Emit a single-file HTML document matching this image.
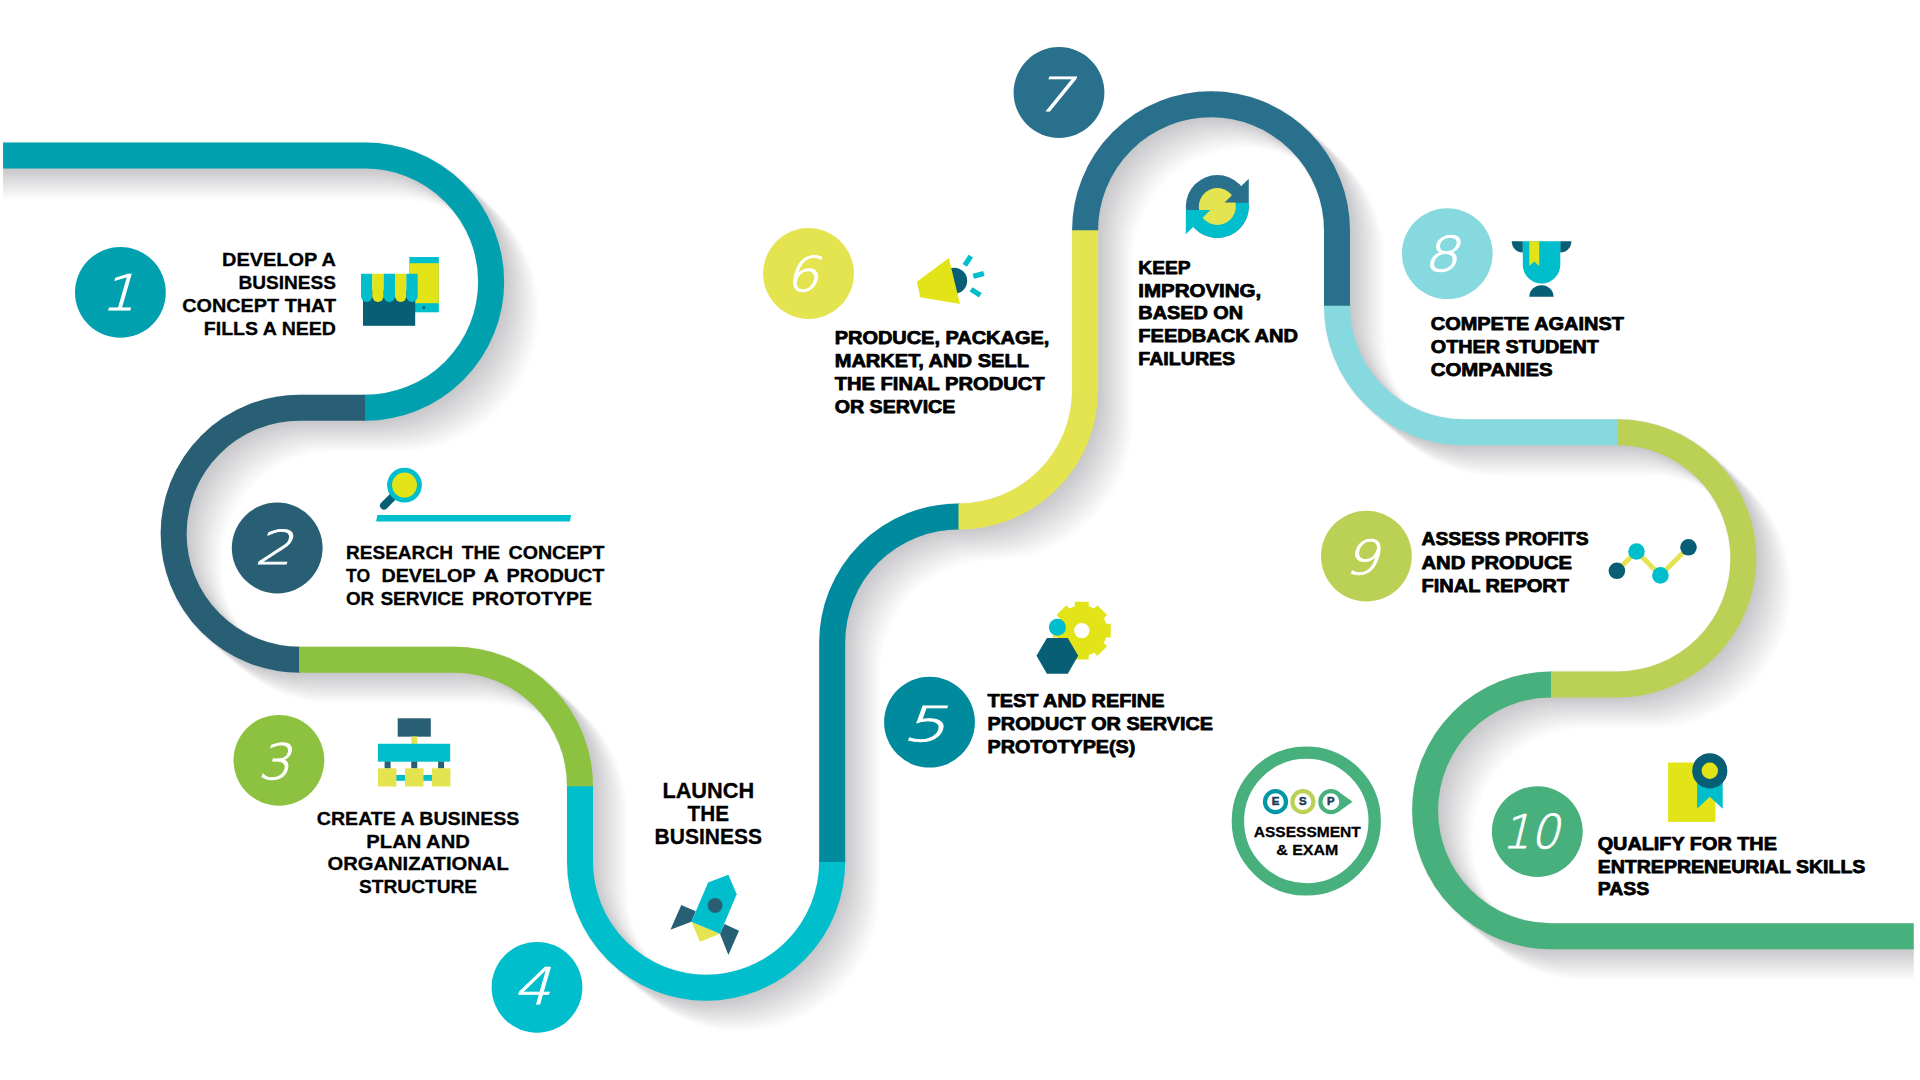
<!DOCTYPE html>
<html lang="en"><head><meta charset="utf-8"><title>Company Programme Roadmap</title>
<style>
html,body{margin:0;padding:0;background:#fff;}
body{width:1920px;height:1080px;overflow:hidden;position:relative;}
svg{position:absolute;left:0;top:0;display:block;}
.t{font-family:"Liberation Sans",sans-serif;font-weight:700;fill:#000;}
</style></head><body>
<svg width="1920" height="1080" viewBox="0 0 1920 1080">
<defs>
<path id="road" d="M-40,155.5 H365 A120,120 0 0 1 365,407.8 L365,407.8 H299.6 A120,120 0 0 0 299.6,659.7 H299 L299,659.7 H454 A126,126 0 0 1 580,785.7 V786.3 L580,786.3 V861.6 A120,120 0 0 0 832.2,861.6 L832.2,862 V642.5 A126.3,126 0 0 1 958.5,516.5 L958.5,516.5 H958.8 A126.3,126.3 0 0 0 1085.1,390.2 V230.3 L1085.1,230.3 A120,120 0 0 1 1337,230.3 V305.7 L1337,305.7 A126.3,126.3 0 0 0 1463.3,432.2 H1617.3 L1617.3,432.2 A120,120 0 0 1 1617.3,684.5 H1551 L1551,684.5 A120,120 0 0 0 1551,936.3 H1960" fill="none" stroke-linejoin="round"/>
<clipPath id="cv"><rect x="3.1" y="0" width="1910.6" height="1080"/></clipPath>
<filter id="sb" x="0" y="0" width="1920" height="1080" filterUnits="userSpaceOnUse" color-interpolation-filters="sRGB"><feGaussianBlur stdDeviation="1"/></filter>
</defs>
<g clip-path="url(#cv)">
<g filter="url(#sb)">
<use href="#road" transform="translate(35.10,30.91)" stroke="rgb(254,254,254)" stroke-width="26.0" fill="none"/>
<use href="#road" transform="translate(34.20,30.11)" stroke="rgb(252,252,252)" stroke-width="26.0" fill="none"/>
<use href="#road" transform="translate(33.30,29.32)" stroke="rgb(251,251,251)" stroke-width="26.0" fill="none"/>
<use href="#road" transform="translate(32.40,28.53)" stroke="rgb(249,249,250)" stroke-width="26.0" fill="none"/>
<use href="#road" transform="translate(31.50,27.74)" stroke="rgb(248,248,248)" stroke-width="26.0" fill="none"/>
<use href="#road" transform="translate(30.60,26.95)" stroke="rgb(247,247,247)" stroke-width="26.0" fill="none"/>
<use href="#road" transform="translate(29.70,26.15)" stroke="rgb(245,245,246)" stroke-width="26.0" fill="none"/>
<use href="#road" transform="translate(28.80,25.36)" stroke="rgb(244,244,244)" stroke-width="26.0" fill="none"/>
<use href="#road" transform="translate(27.90,24.57)" stroke="rgb(242,242,243)" stroke-width="26.0" fill="none"/>
<use href="#road" transform="translate(27.00,23.77)" stroke="rgb(241,241,242)" stroke-width="26.0" fill="none"/>
<use href="#road" transform="translate(26.10,22.98)" stroke="rgb(240,240,240)" stroke-width="26.0" fill="none"/>
<use href="#road" transform="translate(25.20,22.19)" stroke="rgb(238,238,239)" stroke-width="26.0" fill="none"/>
<use href="#road" transform="translate(24.30,21.40)" stroke="rgb(237,237,238)" stroke-width="26.0" fill="none"/>
<use href="#road" transform="translate(23.40,20.61)" stroke="rgb(235,235,236)" stroke-width="26.0" fill="none"/>
<use href="#road" transform="translate(22.50,19.81)" stroke="rgb(234,234,235)" stroke-width="26.0" fill="none"/>
<use href="#road" transform="translate(21.60,19.02)" stroke="rgb(233,233,234)" stroke-width="26.0" fill="none"/>
<use href="#road" transform="translate(20.70,18.23)" stroke="rgb(231,231,232)" stroke-width="26.0" fill="none"/>
<use href="#road" transform="translate(19.80,17.44)" stroke="rgb(230,230,231)" stroke-width="26.0" fill="none"/>
<use href="#road" transform="translate(18.90,16.64)" stroke="rgb(228,228,230)" stroke-width="26.0" fill="none"/>
<use href="#road" transform="translate(18.00,15.85)" stroke="rgb(227,227,228)" stroke-width="26.0" fill="none"/>
<use href="#road" transform="translate(17.10,15.06)" stroke="rgb(226,226,227)" stroke-width="26.0" fill="none"/>
<use href="#road" transform="translate(16.20,14.27)" stroke="rgb(224,224,226)" stroke-width="26.0" fill="none"/>
<use href="#road" transform="translate(15.30,13.47)" stroke="rgb(223,223,225)" stroke-width="26.0" fill="none"/>
<use href="#road" transform="translate(14.40,12.68)" stroke="rgb(221,221,223)" stroke-width="26.0" fill="none"/>
<use href="#road" transform="translate(13.50,11.89)" stroke="rgb(220,220,222)" stroke-width="26.0" fill="none"/>
<use href="#road" transform="translate(12.60,11.09)" stroke="rgb(219,219,221)" stroke-width="26.0" fill="none"/>
<use href="#road" transform="translate(11.70,10.30)" stroke="rgb(217,217,219)" stroke-width="26.0" fill="none"/>
<use href="#road" transform="translate(10.80,9.51)" stroke="rgb(216,216,218)" stroke-width="26.0" fill="none"/>
<use href="#road" transform="translate(9.90,8.72)" stroke="rgb(214,214,217)" stroke-width="26.0" fill="none"/>
<use href="#road" transform="translate(9.00,7.92)" stroke="rgb(213,213,215)" stroke-width="26.0" fill="none"/>
<use href="#road" transform="translate(8.10,7.13)" stroke="rgb(212,212,214)" stroke-width="26.0" fill="none"/>
<use href="#road" transform="translate(7.20,6.34)" stroke="rgb(210,210,213)" stroke-width="26.0" fill="none"/>
<use href="#road" transform="translate(6.30,5.55)" stroke="rgb(209,209,211)" stroke-width="26.0" fill="none"/>
<use href="#road" transform="translate(5.40,4.75)" stroke="rgb(207,207,210)" stroke-width="26.0" fill="none"/>
<use href="#road" transform="translate(4.50,3.96)" stroke="rgb(206,206,209)" stroke-width="26.0" fill="none"/>
<use href="#road" transform="translate(3.60,3.17)" stroke="rgb(205,205,207)" stroke-width="26.0" fill="none"/>
<use href="#road" transform="translate(2.70,2.38)" stroke="rgb(203,203,206)" stroke-width="26.0" fill="none"/>
<use href="#road" transform="translate(1.80,1.58)" stroke="rgb(202,202,205)" stroke-width="26.0" fill="none"/>
<use href="#road" transform="translate(0.90,0.79)" stroke="rgb(200,200,203)" stroke-width="26.0" fill="none"/>
</g>
<g fill="none" stroke-width="26.0">
<path d="M-40,155.5 H365 A120,120 0 0 1 365,407.8 h-1.2" stroke="#00A0AF"/>
<path d="M365,407.8 H299.6 A120,120 0 0 0 299.6,659.7 H299 h1.2" stroke="#285F75"/>
<path d="M299,659.7 H454 A126,126 0 0 1 580,785.7 V786.3 v1.2" stroke="#8DC241"/>
<path d="M580,786.3 V861.6 A120,120 0 0 0 832.2,861.6 v-1.2" stroke="#00BECB"/>
<path d="M832.2,862 V642.5 A126.3,126 0 0 1 958.5,516.5 h1.2" stroke="#008A9D"/>
<path d="M958.5,516.5 H958.8 A126.3,126.3 0 0 0 1085.1,390.2 V230.3 v-1.2" stroke="#E4E350"/>
<path d="M1085.1,230.3 A120,120 0 0 1 1337,230.3 V305.7 v1.2" stroke="#29708C"/>
<path d="M1337,305.7 A126.3,126.3 0 0 0 1463.3,432.2 H1617.3 h1.2" stroke="#86DADF"/>
<path d="M1617.3,432.2 A120,120 0 0 1 1617.3,684.5 H1551 h-1.2" stroke="#BAD155"/>
<path d="M1551,684.5 A120,120 0 0 0 1551,936.3 H1960 " stroke="#47B07C"/>
</g>
</g>
<circle cx="120.4" cy="292.4" r="45.4" fill="#00A0AF"/>
<text transform="translate(100.4,310.12) scale(0.5643,0.4908) skewX(-14)" font-size="100" style="font-family:&quot;DejaVu Sans Light&quot;,&quot;DejaVu Sans&quot;,sans-serif;font-weight:200" fill="#fff" stroke="#fff" stroke-width="2.0">1</text>
<circle cx="277.2" cy="548.0" r="45.4" fill="#285F75"/>
<text transform="translate(254.24,564.37) scale(0.5933,0.4667) skewX(-14)" font-size="100" style="font-family:&quot;DejaVu Sans Light&quot;,&quot;DejaVu Sans&quot;,sans-serif;font-weight:200" fill="#fff" stroke="#fff" stroke-width="2.0">2</text>
<circle cx="278.9" cy="760.3" r="45.4" fill="#8DC241"/>
<text transform="translate(257.82,778.93) scale(0.51,0.4872) skewX(-14)" font-size="100" style="font-family:&quot;DejaVu Sans Light&quot;,&quot;DejaVu Sans&quot;,sans-serif;font-weight:200" fill="#fff" stroke="#fff" stroke-width="2.0">3</text>
<circle cx="537.0" cy="987.3" r="45.4" fill="#00BECB"/>
<text transform="translate(513.33,1004.49) scale(0.5839,0.5053) skewX(-14)" font-size="100" style="font-family:&quot;DejaVu Sans Light&quot;,&quot;DejaVu Sans&quot;,sans-serif;font-weight:200" fill="#fff" stroke="#fff" stroke-width="2.0">4</text>
<circle cx="929.5" cy="722.2" r="45.4" fill="#008A9D"/>
<text transform="translate(901.85,741.44) scale(0.6946,0.4816) skewX(-14)" font-size="100" style="font-family:&quot;DejaVu Sans Light&quot;,&quot;DejaVu Sans&quot;,sans-serif;font-weight:200" fill="#fff" stroke="#fff" stroke-width="2.0">5</text>
<circle cx="808.5" cy="273.5" r="45.4" fill="#E4E350"/>
<text transform="translate(785.35,291.04) scale(0.525,0.4782) skewX(-14)" font-size="100" style="font-family:&quot;DejaVu Sans Light&quot;,&quot;DejaVu Sans&quot;,sans-serif;font-weight:200" fill="#fff" stroke="#fff" stroke-width="2.0">6</text>
<circle cx="1059.0" cy="92.5" r="45.4" fill="#29708C"/>
<text transform="translate(1033.9,110.96) scale(0.6,0.4684) skewX(-14)" font-size="100" style="font-family:&quot;DejaVu Sans Light&quot;,&quot;DejaVu Sans&quot;,sans-serif;font-weight:200" fill="#fff" stroke="#fff" stroke-width="2.0">7</text>
<circle cx="1447.3" cy="253.7" r="45.4" fill="#86DADF"/>
<text transform="translate(1423.3,271.14) scale(0.55,0.4808) skewX(-14)" font-size="100" style="font-family:&quot;DejaVu Sans Light&quot;,&quot;DejaVu Sans&quot;,sans-serif;font-weight:200" fill="#fff" stroke="#fff" stroke-width="2.0">8</text>
<circle cx="1366.4" cy="556.1" r="45.4" fill="#BAD155"/>
<text transform="translate(1344.25,574.36) scale(0.5375,0.4705) skewX(-14)" font-size="100" style="font-family:&quot;DejaVu Sans Light&quot;,&quot;DejaVu Sans&quot;,sans-serif;font-weight:200" fill="#fff" stroke="#fff" stroke-width="2.0">9</text>
<circle cx="1537.3" cy="831.6" r="45.4" fill="#47B07C"/>
<text transform="translate(1501.76,848.17) scale(0.4525,0.4641) skewX(-14)" font-size="100" style="font-family:&quot;DejaVu Sans Light&quot;,&quot;DejaVu Sans&quot;,sans-serif;font-weight:200" fill="#fff" stroke="#fff" stroke-width="2.0">10</text>
<text class="t" x="336" y="265.8" font-size="18.2" text-anchor="end" textLength="114.0" lengthAdjust="spacingAndGlyphs" stroke="#000" stroke-width="0.3" stroke-linejoin="round">DEVELOP A</text>
<text class="t" x="336" y="288.75" font-size="18.2" text-anchor="end" textLength="97.5" lengthAdjust="spacingAndGlyphs" stroke="#000" stroke-width="0.3" stroke-linejoin="round">BUSINESS</text>
<text class="t" x="336" y="311.7" font-size="18.2" text-anchor="end" textLength="153.7" lengthAdjust="spacingAndGlyphs" stroke="#000" stroke-width="0.3" stroke-linejoin="round">CONCEPT THAT</text>
<text class="t" x="336" y="334.6" font-size="18.2" text-anchor="end" textLength="132.2" lengthAdjust="spacingAndGlyphs" stroke="#000" stroke-width="0.3" stroke-linejoin="round">FILLS A NEED</text>
<text class="t" y="558.5" font-size="18.2" stroke="#000" stroke-width="0.3" stroke-linejoin="round"><tspan x="346.0" textLength="106.9" lengthAdjust="spacingAndGlyphs">RESEARCH</tspan> <tspan x="461.7" textLength="38.5" lengthAdjust="spacingAndGlyphs">THE</tspan> <tspan x="508.5" textLength="95.9" lengthAdjust="spacingAndGlyphs">CONCEPT</tspan></text>
<text class="t" y="581.5" font-size="18.2" stroke="#000" stroke-width="0.3" stroke-linejoin="round"><tspan x="346.0" textLength="24.0" lengthAdjust="spacingAndGlyphs">TO</tspan> <tspan x="381.5" textLength="93.7" lengthAdjust="spacingAndGlyphs">DEVELOP</tspan> <tspan x="483.5" textLength="14.6" lengthAdjust="spacingAndGlyphs">A</tspan> <tspan x="506.5" textLength="97.9" lengthAdjust="spacingAndGlyphs">PRODUCT</tspan></text>
<text class="t" y="604.6" font-size="18.2" stroke="#000" stroke-width="0.3" stroke-linejoin="round"><tspan x="346.0" textLength="28.2" lengthAdjust="spacingAndGlyphs">OR</tspan> <tspan x="380.4" textLength="83.4" lengthAdjust="spacingAndGlyphs">SERVICE</tspan> <tspan x="472.1" textLength="119.8" lengthAdjust="spacingAndGlyphs">PROTOTYPE</tspan></text>
<text class="t" x="418.1" y="824.6" font-size="18.2" text-anchor="middle" textLength="202.5" lengthAdjust="spacingAndGlyphs" stroke="#000" stroke-width="0.3" stroke-linejoin="round">CREATE A BUSINESS</text>
<text class="t" x="418.1" y="847.5" font-size="18.2" text-anchor="middle" textLength="103.5" lengthAdjust="spacingAndGlyphs" stroke="#000" stroke-width="0.3" stroke-linejoin="round">PLAN AND</text>
<text class="t" x="418.1" y="870.4" font-size="18.2" text-anchor="middle" textLength="181.3" lengthAdjust="spacingAndGlyphs" stroke="#000" stroke-width="0.3" stroke-linejoin="round">ORGANIZATIONAL</text>
<text class="t" x="418.1" y="893.3" font-size="18.2" text-anchor="middle" textLength="118.1" lengthAdjust="spacingAndGlyphs" stroke="#000" stroke-width="0.3" stroke-linejoin="round">STRUCTURE</text>
<text class="t" x="708.3" y="797.9" font-size="21.2" text-anchor="middle" textLength="91.8" lengthAdjust="spacingAndGlyphs" stroke="#000" stroke-width="0.3" stroke-linejoin="round">LAUNCH</text>
<text class="t" x="708.3" y="820.7" font-size="21.2" text-anchor="middle" textLength="41.4" lengthAdjust="spacingAndGlyphs" stroke="#000" stroke-width="0.3" stroke-linejoin="round">THE</text>
<text class="t" x="708.3" y="843.6" font-size="21.2" text-anchor="middle" textLength="107.4" lengthAdjust="spacingAndGlyphs" stroke="#000" stroke-width="0.3" stroke-linejoin="round">BUSINESS</text>
<text class="t" x="987.6" y="706.6" font-size="17.7" text-anchor="start" textLength="176.8" lengthAdjust="spacingAndGlyphs" stroke="#000" stroke-width="0.75" stroke-linejoin="round">TEST AND REFINE</text>
<text class="t" x="987.6" y="729.7" font-size="17.7" text-anchor="start" textLength="225.5" lengthAdjust="spacingAndGlyphs" stroke="#000" stroke-width="0.75" stroke-linejoin="round">PRODUCT OR SERVICE</text>
<text class="t" x="987.6" y="752.6" font-size="17.7" text-anchor="start" textLength="147.7" lengthAdjust="spacingAndGlyphs" stroke="#000" stroke-width="0.75" stroke-linejoin="round">PROTOTYPE(S)</text>
<text class="t" x="834.7" y="344.1" font-size="17.7" text-anchor="start" textLength="214.6" lengthAdjust="spacingAndGlyphs" stroke="#000" stroke-width="0.75" stroke-linejoin="round">PRODUCE, PACKAGE,</text>
<text class="t" x="834.7" y="366.9" font-size="17.7" text-anchor="start" textLength="194.2" lengthAdjust="spacingAndGlyphs" stroke="#000" stroke-width="0.75" stroke-linejoin="round">MARKET, AND SELL</text>
<text class="t" x="834.7" y="389.9" font-size="17.7" text-anchor="start" textLength="209.9" lengthAdjust="spacingAndGlyphs" stroke="#000" stroke-width="0.75" stroke-linejoin="round">THE FINAL PRODUCT</text>
<text class="t" x="834.7" y="413.1" font-size="17.7" text-anchor="start" textLength="120.7" lengthAdjust="spacingAndGlyphs" stroke="#000" stroke-width="0.75" stroke-linejoin="round">OR SERVICE</text>
<text class="t" x="1138.3" y="273.5" font-size="17.7" text-anchor="start" textLength="52.2" lengthAdjust="spacingAndGlyphs" stroke="#000" stroke-width="0.75" stroke-linejoin="round">KEEP</text>
<text class="t" x="1138.3" y="296.5" font-size="17.7" text-anchor="start" textLength="122.9" lengthAdjust="spacingAndGlyphs" stroke="#000" stroke-width="0.75" stroke-linejoin="round">IMPROVING,</text>
<text class="t" x="1138.3" y="319.3" font-size="17.7" text-anchor="start" textLength="104.8" lengthAdjust="spacingAndGlyphs" stroke="#000" stroke-width="0.75" stroke-linejoin="round">BASED ON</text>
<text class="t" x="1138.3" y="342.3" font-size="17.7" text-anchor="start" textLength="159.8" lengthAdjust="spacingAndGlyphs" stroke="#000" stroke-width="0.75" stroke-linejoin="round">FEEDBACK AND</text>
<text class="t" x="1138.3" y="365.1" font-size="17.7" text-anchor="start" textLength="96.9" lengthAdjust="spacingAndGlyphs" stroke="#000" stroke-width="0.75" stroke-linejoin="round">FAILURES</text>
<text class="t" x="1430.8" y="329.8" font-size="17.7" text-anchor="start" textLength="193.1" lengthAdjust="spacingAndGlyphs" stroke="#000" stroke-width="0.75" stroke-linejoin="round">COMPETE AGAINST</text>
<text class="t" x="1430.8" y="353.2" font-size="17.7" text-anchor="start" textLength="168.0" lengthAdjust="spacingAndGlyphs" stroke="#000" stroke-width="0.75" stroke-linejoin="round">OTHER STUDENT</text>
<text class="t" x="1430.8" y="376.4" font-size="17.7" text-anchor="start" textLength="121.9" lengthAdjust="spacingAndGlyphs" stroke="#000" stroke-width="0.75" stroke-linejoin="round">COMPANIES</text>
<text class="t" x="1421.5" y="545.4" font-size="17.7" text-anchor="start" textLength="167.2" lengthAdjust="spacingAndGlyphs" stroke="#000" stroke-width="0.75" stroke-linejoin="round">ASSESS PROFITS</text>
<text class="t" x="1421.5" y="568.75" font-size="17.7" text-anchor="start" textLength="150.5" lengthAdjust="spacingAndGlyphs" stroke="#000" stroke-width="0.75" stroke-linejoin="round">AND PRODUCE</text>
<text class="t" x="1421.5" y="592.1" font-size="17.7" text-anchor="start" textLength="147.5" lengthAdjust="spacingAndGlyphs" stroke="#000" stroke-width="0.75" stroke-linejoin="round">FINAL REPORT</text>
<text class="t" x="1597.7" y="849.8" font-size="17.7" text-anchor="start" textLength="179.2" lengthAdjust="spacingAndGlyphs" stroke="#000" stroke-width="0.75" stroke-linejoin="round">QUALIFY FOR THE</text>
<text class="t" x="1597.7" y="872.7" font-size="17.7" text-anchor="start" textLength="267.7" lengthAdjust="spacingAndGlyphs" stroke="#000" stroke-width="0.75" stroke-linejoin="round">ENTREPRENEURIAL SKILLS</text>
<text class="t" x="1597.7" y="895.2" font-size="17.7" text-anchor="start" textLength="51.5" lengthAdjust="spacingAndGlyphs" stroke="#000" stroke-width="0.75" stroke-linejoin="round">PASS</text>
<g>
<rect x="409.4" y="257" width="29.4" height="55.3" fill="#00BECB"/>
<rect x="409.4" y="263.2" width="29.4" height="40" fill="#E2E418"/>
<circle cx="423.8" cy="307.6" r="1.5" fill="#085F75"/>
<rect x="363" y="290" width="52.2" height="35.8" fill="#085F75"/>
<path d="M361.00,273.75 h11.34 V296.33 a5.67,5.67 0 0 1 -11.34,0 Z" fill="#00BECB"/>
<path d="M372.34,273.75 h11.34 V296.33 a5.67,5.67 0 0 1 -11.34,0 Z" fill="#E2E418"/>
<path d="M383.68,273.75 h11.34 V296.33 a5.67,5.67 0 0 1 -11.34,0 Z" fill="#00BECB"/>
<path d="M395.02,273.75 h11.34 V296.33 a5.67,5.67 0 0 1 -11.34,0 Z" fill="#E2E418"/>
<path d="M406.36,273.75 h11.34 V296.33 a5.67,5.67 0 0 1 -11.34,0 Z" fill="#00BECB"/>
</g>
<g>
<path d="M394,495.5 L384,505.6" stroke="#085F75" stroke-width="8" stroke-linecap="round" fill="none"/>
<circle cx="404.5" cy="485.1" r="14.95" fill="#E2E418" stroke="#00BECB" stroke-width="4.9"/>
<path d="M377.4,515 H571 L570,521.6 H376.1 Z" fill="#00BECB"/>
</g>
<g>
<rect x="397.7" y="718.3" width="33.1" height="18.4" fill="#285F75"/>
<rect x="411.25" y="736.5" width="6.05" height="7.5" fill="#E4E350"/>
<rect x="377.9" y="743.75" width="72.3" height="17.95" fill="#00BECB"/>
<rect x="384.6" y="761.5" width="6" height="7" fill="#285F75"/>
<rect x="411.25" y="761.5" width="6" height="7" fill="#285F75"/>
<rect x="438.1" y="761.5" width="6" height="7" fill="#285F75"/>
<rect x="390" y="775" width="50" height="5.8" fill="#00BECB"/>
<rect x="377.9" y="768.3" width="18.5" height="18.2" fill="#E4E350"/>
<rect x="405.0" y="768.3" width="18.5" height="18.2" fill="#E4E350"/>
<rect x="431.9" y="768.3" width="18.5" height="18.2" fill="#E4E350"/>
</g>
<g>
<polygon points="681.3,904.9 695.7,911.3 691.4,921.8 670.4,929.8" fill="#285F75"/>
<polygon points="724.5,923.9 739,930.8 728.4,954.9 720,933.7" fill="#285F75"/>
<polygon points="691.4,921.8 720,933.7 700,941.8" fill="#E4E350"/>
<polygon points="728.4,874.7 736.7,894.2 720,933.7 691.4,921.8 708.1,882.5" fill="#00BECB"/>
<circle cx="715.1" cy="905.5" r="7.4" fill="#285F75"/>
</g>
<g>
<circle cx="1081.8" cy="630.6" r="25.2" fill="#E2E418"/>
<path d="M1074.84,606.59 L1074.90,601.71 L1088.70,601.71 L1088.76,606.59 L1093.86,608.70 L1097.35,605.29 L1107.11,615.05 L1103.70,618.54 L1105.81,623.64 L1110.69,623.70 L1110.69,637.50 L1105.81,637.56 L1103.70,642.66 L1107.11,646.15 L1097.35,655.91 L1093.86,652.50 L1088.76,654.61 L1088.70,659.49 L1074.90,659.49 L1074.84,654.61 L1069.74,652.50 L1066.25,655.91 L1056.49,646.15 L1059.90,642.66 L1057.79,637.56 L1052.91,637.50 L1052.91,623.70 L1057.79,623.64 L1059.90,618.54 L1056.49,615.05 L1066.25,605.29 L1069.74,608.70 Z" fill="#E2E418"/>
<circle cx="1081.8" cy="630.6" r="7.7" fill="#fff"/>
<circle cx="1057.4" cy="627.3" r="8.5" fill="#00BECB"/>
<polygon points="1036.5,655.7 1046.9,637.9 1067.8,637.9 1078.2,655.7 1067.8,673.7 1046.9,673.7" fill="#085F75"/>
</g>
<g>
<circle cx="954.2" cy="280.7" r="13" fill="#085F75"/>
<polygon points="948.8,258.1 960,304.1 920.3,297.2 916.9,281.7" fill="#E2E418"/>
<rect x="-5.5" y="-2.6" width="11" height="5.2" fill="#00BECB" transform="translate(967.8,260.7) rotate(-57)"/>
<rect x="-5.5" y="-2.6" width="11" height="5.2" fill="#00BECB" transform="translate(978.6,274.9) rotate(-15)"/>
<rect x="-5.5" y="-2.6" width="11" height="5.2" fill="#00BECB" transform="translate(975.7,292.3) rotate(32)"/>
</g>
<g>
<clipPath id="rb"><path d="M1180,210 H1217.3 V202.5 H1255 V245 H1180 Z"/></clipPath>
<circle cx="1217.3" cy="206.5" r="31.5" fill="#29708C"/>
<circle cx="1217.3" cy="206.5" r="31.5" fill="#00BECB" clip-path="url(#rb)"/>
<circle cx="1217.3" cy="206.5" r="18.5" fill="#E4E350"/>
<polygon points="1248.75,178.75 1248.75,202.6 1224.6,202.6" fill="#29708C"/>
<polygon points="1185.8,234.2 1185.8,209.9 1210.4,209.9" fill="#00BECB"/>
</g>
<g>
<path d="M1511.7,241.3 H1522.9 V252.4 A11.1,11.1 0 0 1 1511.7,241.3 Z" fill="#085F75"/>
<path d="M1571.4,241.3 H1560.2 V252.4 A11.1,11.1 0 0 0 1571.4,241.3 Z" fill="#085F75"/>
<path d="M1522.8,241.3 H1560.3 V264.85 A18.75,18.75 0 0 1 1522.8,264.85 Z" fill="#00BECB"/>
<polygon points="1529.3,241.3 1539.2,241.3 1539.2,266 1534.25,261.6 1529.3,266" fill="#E2E418"/>
<path d="M1529.3,296.7 A12.15,11.5 0 0 1 1553.6,296.7 Z" fill="#085F75"/>
</g>
<g>
<polyline points="1616.9,570.8 1636.5,551.5 1660.4,575.4 1688.5,547.3" fill="none" stroke="#E4E350" stroke-width="4.8"/>
<circle cx="1616.9" cy="570.8" r="8.3" fill="#085F75"/>
<circle cx="1636.5" cy="551.5" r="8.3" fill="#00BECB"/>
<circle cx="1660.4" cy="575.4" r="8.3" fill="#00BECB"/>
<circle cx="1688.5" cy="547.3" r="8.3" fill="#085F75"/>
</g>
<g>
<rect x="1668.1" y="762.5" width="47.3" height="59.4" fill="#E2E418"/>
<polygon points="1697.1,775 1722.7,775 1722.7,808.75 1709.8,796.7 1697.1,808.75" fill="#00BECB"/>
<circle cx="1709.8" cy="770.8" r="12.9" fill="#E2E418" stroke="#085F75" stroke-width="9.4"/>
</g>
<g>
<circle cx="1306.3" cy="821" r="68.4" fill="#fff" stroke="#47B07C" stroke-width="12.4"/>
<circle cx="1275.5" cy="801.7" r="10.5" fill="#fff" stroke="#0097A7" stroke-width="4.2"/>
<circle cx="1302.9" cy="801.7" r="10.5" fill="#fff" stroke="#BAD155" stroke-width="4.2"/>
<path d="M1337.5,791 L1352.6,801.7 L1337.5,812.4 Z" fill="#47B07C"/>
<circle cx="1330.9" cy="801.7" r="10.5" fill="#fff" stroke="#47B07C" stroke-width="4.2"/>
<text class="t" x="1275.5" y="805.3" font-size="10" text-anchor="middle" style="fill:#1D3F55" stroke="#1D3F55" stroke-width="0.5" textLength="7.6" lengthAdjust="spacingAndGlyphs">E</text>
<text class="t" x="1302.9" y="805.3" font-size="10" text-anchor="middle" style="fill:#1D3F55" stroke="#1D3F55" stroke-width="0.5" textLength="7.6" lengthAdjust="spacingAndGlyphs">S</text>
<text class="t" x="1330.9" y="805.3" font-size="10" text-anchor="middle" style="fill:#1D3F55" stroke="#1D3F55" stroke-width="0.5" textLength="7.6" lengthAdjust="spacingAndGlyphs">P</text>
<text class="t" x="1307.3" y="836.8" font-size="15.2" text-anchor="middle" textLength="107.0" lengthAdjust="spacingAndGlyphs" stroke="#000" stroke-width="0.3" stroke-linejoin="round">ASSESSMENT</text>
<text class="t" x="1307.3" y="854.9" font-size="15.2" text-anchor="middle" textLength="62.0" lengthAdjust="spacingAndGlyphs" stroke="#000" stroke-width="0.3" stroke-linejoin="round">&amp; EXAM</text>
</g>
</svg>
</body></html>
